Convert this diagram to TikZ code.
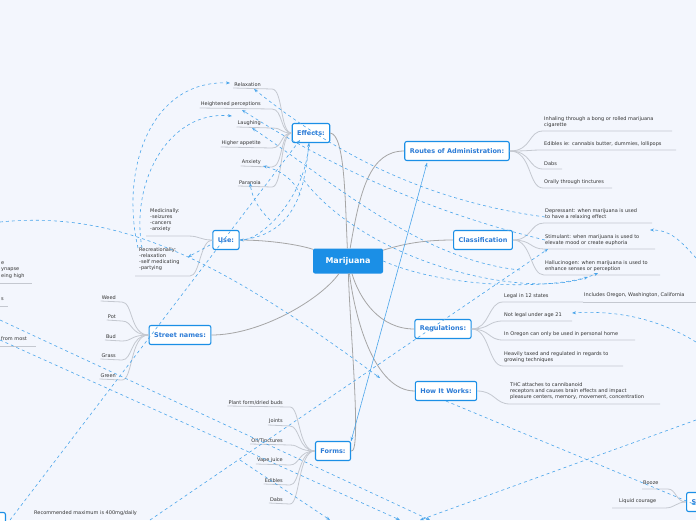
\documentclass[tikz,border=0pt]{standalone}
\usepackage{fontspec}
\setmainfont{DejaVu Sans}
\usetikzlibrary{arrows.meta,calc}
\definecolor{bg}{HTML}{F3F6FD}
\definecolor{mblue}{HTML}{1B8FE6}
\definecolor{dblue}{HTML}{2B7BD6}
\definecolor{gline}{HTML}{C4C8D0}
\definecolor{txt}{HTML}{333333}
\tikzset{
 main/.style={draw=mblue,line width=1.1pt,fill=white,rounded corners=2pt,text=dblue,font=\bfseries\fontsize{6.5}{7}\selectfont,minimum height=19pt,inner xsep=5pt},
 root/.style={fill=mblue,rounded corners=2pt,text=white,font=\bfseries\fontsize{8}{9}\selectfont,minimum width=70pt,minimum height=25pt},
 leaf/.style={text=txt,font=\fontsize{5}{6}\selectfont,inner sep=1pt,align=left},
 bb/.style={draw=gray!70,line width=0.8pt},
 rel/.style={draw=mblue!80,dashed,line width=0.6pt,-{Stealth[length=4pt]}},
 ul/.style={draw=gline,line width=0.8pt}
}
\begin{document}
\begin{tikzpicture}[x=1pt,y=-1pt]
\fill[bg] (0,0) rectangle (696,520);
\useasboundingbox (0,0) rectangle (696,520);
% main nodes
\node[root] (m) at (348,261) {Marijuana};
\node[main] (eff) at (311,133) {Effects:};
\node[main] (rou) at (457,151) {Routes of Administration:};
\node[main] (cla) at (483,240) {Classification};
\node[main] (reg) at (443,329) {Regulations:};
\node[main] (how) at (446,391) {How It Works:};
\node[main] (frm) at (333,451) {Forms:};
\node[main] (str) at (180,335) {Street names:};
\node[main] (use) at (226,240) {Use:};
\node[main,anchor=west] (sub) at (686,502) {S};
\node[main,anchor=east] (dose) at (6,522) {D};
% branches from root
\draw[bb] (m) .. controls (345,200) and (345,135) .. (eff.east);
\draw[bb] (m) .. controls (360,190) and (370,151) .. (rou.west);
\draw[bb] (m) .. controls (400,245) and (420,240) .. (cla.west);
\draw[bb] (m) .. controls (360,300) and (380,329) .. (reg.west);
\draw[bb] (m) .. controls (355,320) and (375,391) .. (how.west);
\draw[bb] (m) .. controls (350,330) and (362,455) .. (frm.east);
\draw[bb] (m) .. controls (320,300) and (260,335) .. (str.east);
\draw[bb] (m) .. controls (300,245) and (270,240) .. (use.east);
% Effects leaves
\foreach \t/\y in {Relaxation/84,Heightened perceptions/104,Laughing/123,Higher appetite/143,Anxiety/162,Paranoia/182}{
  \node[leaf,anchor=south east] (e\y) at (262,\y+4) {\t};
  \draw[ul] (e\y.south west) -- (272,\y+5) .. controls (283,\y+5) and (280,133) .. (eff.west);
}
% Routes leaves
\node[leaf,anchor=south west] (r1) at (543,129) {Inhaling through a bong or rolled marijuana\\cigarette};
\node[leaf,anchor=south west] (r2) at (543,148) {Edibles ie: cannabis butter, dummies, lollipops};
\node[leaf,anchor=south west] (r3) at (543,167) {Dabs};
\node[leaf,anchor=south west] (r4) at (543,186) {Orally through tinctures};
\foreach \n/\y/\e in {r1/131/672,r2/150/676,r3/169/562,r4/188/612}
  \draw[ul] (rou.east) .. controls (532,151) and (528,\y) .. (543,\y) -- (\e,\y);
% Classification leaves
\node[leaf,anchor=south west] (c1) at (544,221) {Depressant: when marijuana is used\\to have a relaxing effect};
\node[leaf,anchor=south west] (c2) at (544,247) {Stimulant: when marijuana is used to\\elevate mood or create euphoria};
\node[leaf,anchor=south west] (c3) at (544,273) {Hallucinogen: when marijuana is used to\\enhance senses or perception};
\foreach \y/\e in {223/652,249/655,275/660}
  \draw[ul] (cla.east) .. controls (532,240) and (530,\y) .. (544,\y) -- (\e,\y);
% Regulations leaves
\node[leaf,anchor=south west] (g1) at (503,300) {Legal in 12 states};
\node[leaf,anchor=south west] (g1b) at (583,299) {Includes Oregon, Washington, California};
\node[leaf,anchor=south west] (g2) at (503,319) {Not legal under age 21};
\node[leaf,anchor=south west] (g3) at (503,338) {In Oregon can only be used in personal home};
\node[leaf,anchor=south west] (g4) at (503,364) {Heavily taxed and regulated in regards to\\growing techniques};
\foreach \y/\e in {302/583,321/572,340/635,366/623}
  \draw[ul] (reg.east) .. controls (490,329) and (488,\y) .. (503,\y) -- (\e,\y);
\draw[ul] (583,302) -- (696,302);
% How it works
\node[leaf,anchor=south west] (h1) at (509,401) {THC attaches to cannibanoid\\receptors and causes brain effects and impact\\pleasure centers, memory, movement, concentration};
\draw[ul] (how.east) .. controls (495,391) and (495,404) .. (510,404) -- (660,404);
% Forms leaves
\foreach \t/\y in {{Plant form/dried buds}/402,Joints/421,{Oil/Tinctures}/440,Vape juice/460,Edibles/480,Dabs/499}{
  \node[leaf,anchor=south east] (f\y) at (284,\y+4) {\t};
  \draw[ul] (f\y.south west) -- (290,\y+5) .. controls (300,\y+5) and (298,451) .. (frm.west);
}
% Street names leaves
\foreach \t/\y in {Weed/297,Pot/316,Bud/336,Grass/355,Green/375}{
  \node[leaf,anchor=south east] (s\y) at (117,\y+4) {\t};
  \draw[ul] (s\y.south west) -- (122,\y+5) .. controls (133,\y+5) and (130,335) .. (str.west);
}
% Use leaves
\node[leaf,anchor=south west] (u1) at (149,233) {Medicinally:\\-seizures\\-cancers\\-anxiety};
\node[leaf,anchor=south west] (u2) at (138,272) {Recreationally:\\-relaxation\\-self medicating\\-partying};
\draw[ul] (146,236) -- (188,236) .. controls (200,236) and (200,240) .. (use.west);
\draw[ul] (135,276) -- (190,276) .. controls (200,276) and (200,240) .. (use.west);
% cut-off left texts
\node[leaf,anchor=south west] at (0,266) {e};
\node[leaf,anchor=south west] at (0,273) {ynapse};
\node[leaf,anchor=south west] at (0,280) {eing high};
\draw[ul] (0,283) -- (32,283);
\node[leaf,anchor=south west] at (0,302) {s};
\draw[ul] (0,306) -- (8,306);
\node[leaf,anchor=south west] at (0,342) {from most};
\draw[ul] (0,346) -- (36,346);
\node[leaf,anchor=south west] at (33,517) {Recommended maximum is 400mg/daily};
\node[leaf,anchor=south west] (bz) at (642,486) {Booze};
\node[leaf,anchor=south west] (lq) at (618,505) {Liquid courage};
\draw[ul] (612,508) -- (665,508) .. controls (675,508) and (676,502) .. (sub.west);
\draw[ul] (642,489) -- (668,489) .. controls (676,489) and (676,502) .. (sub.west);
% relationships
\draw[rel] (138,248) .. controls (120,170) and (150,80) .. (230,83);
\draw[rel] (142,248) .. controls (130,180) and (170,110) .. (232,116);
\draw[rel] (use.east) .. controls (300,235) and (305,180) .. (309,143);
\draw[rel] (309,143) .. controls (305,200) and (260,240) .. (use.east);
\draw[rel] (210,245) -- (188,257);
\draw[rel] (545,217) .. controls (420,200) and (330,150) .. (254,89);
\draw[rel] (545,240) .. controls (420,210) and (320,160) .. (242,110);
\draw[rel] (520,270) .. controls (420,260) and (330,180) .. (252,128);
\draw[rel] (300,195) .. controls (295,180) and (280,170) .. (263,166);
\draw[rel] (m.east) .. controls (450,290) and (560,290) .. (598,273);
\draw[rel] (300,175) .. controls (360,260) and (520,300) .. (588,277);
\draw[rel] (270,220) .. controls (255,205) and (252,195) .. (250,183);
\draw[rel] (696,258) .. controls (680,240) and (670,230) .. (650,230);
\draw[rel] (696,342) .. controls (660,320) and (620,310) .. (572,313);
\draw[rel] (frm.north east) -- (427,163);
\draw[rel] (427,163) -- (frm.north east);
\draw[rel] (0,222) .. controls (120,210) and (220,260) .. (380,378);
\draw[rel] (150,520) -- (548,249);
\draw[rel] (10,520) -- (300,140);
\draw[rel] (0,320) -- (430,520);
\draw[rel] (0,340) -- (400,520);
\draw[rel] (how.south) -- (696,505);
\draw[rel] (696,420) -- (420,520);
\draw[rel] (240,460) -- (330,520);
\end{tikzpicture}
\end{document}
